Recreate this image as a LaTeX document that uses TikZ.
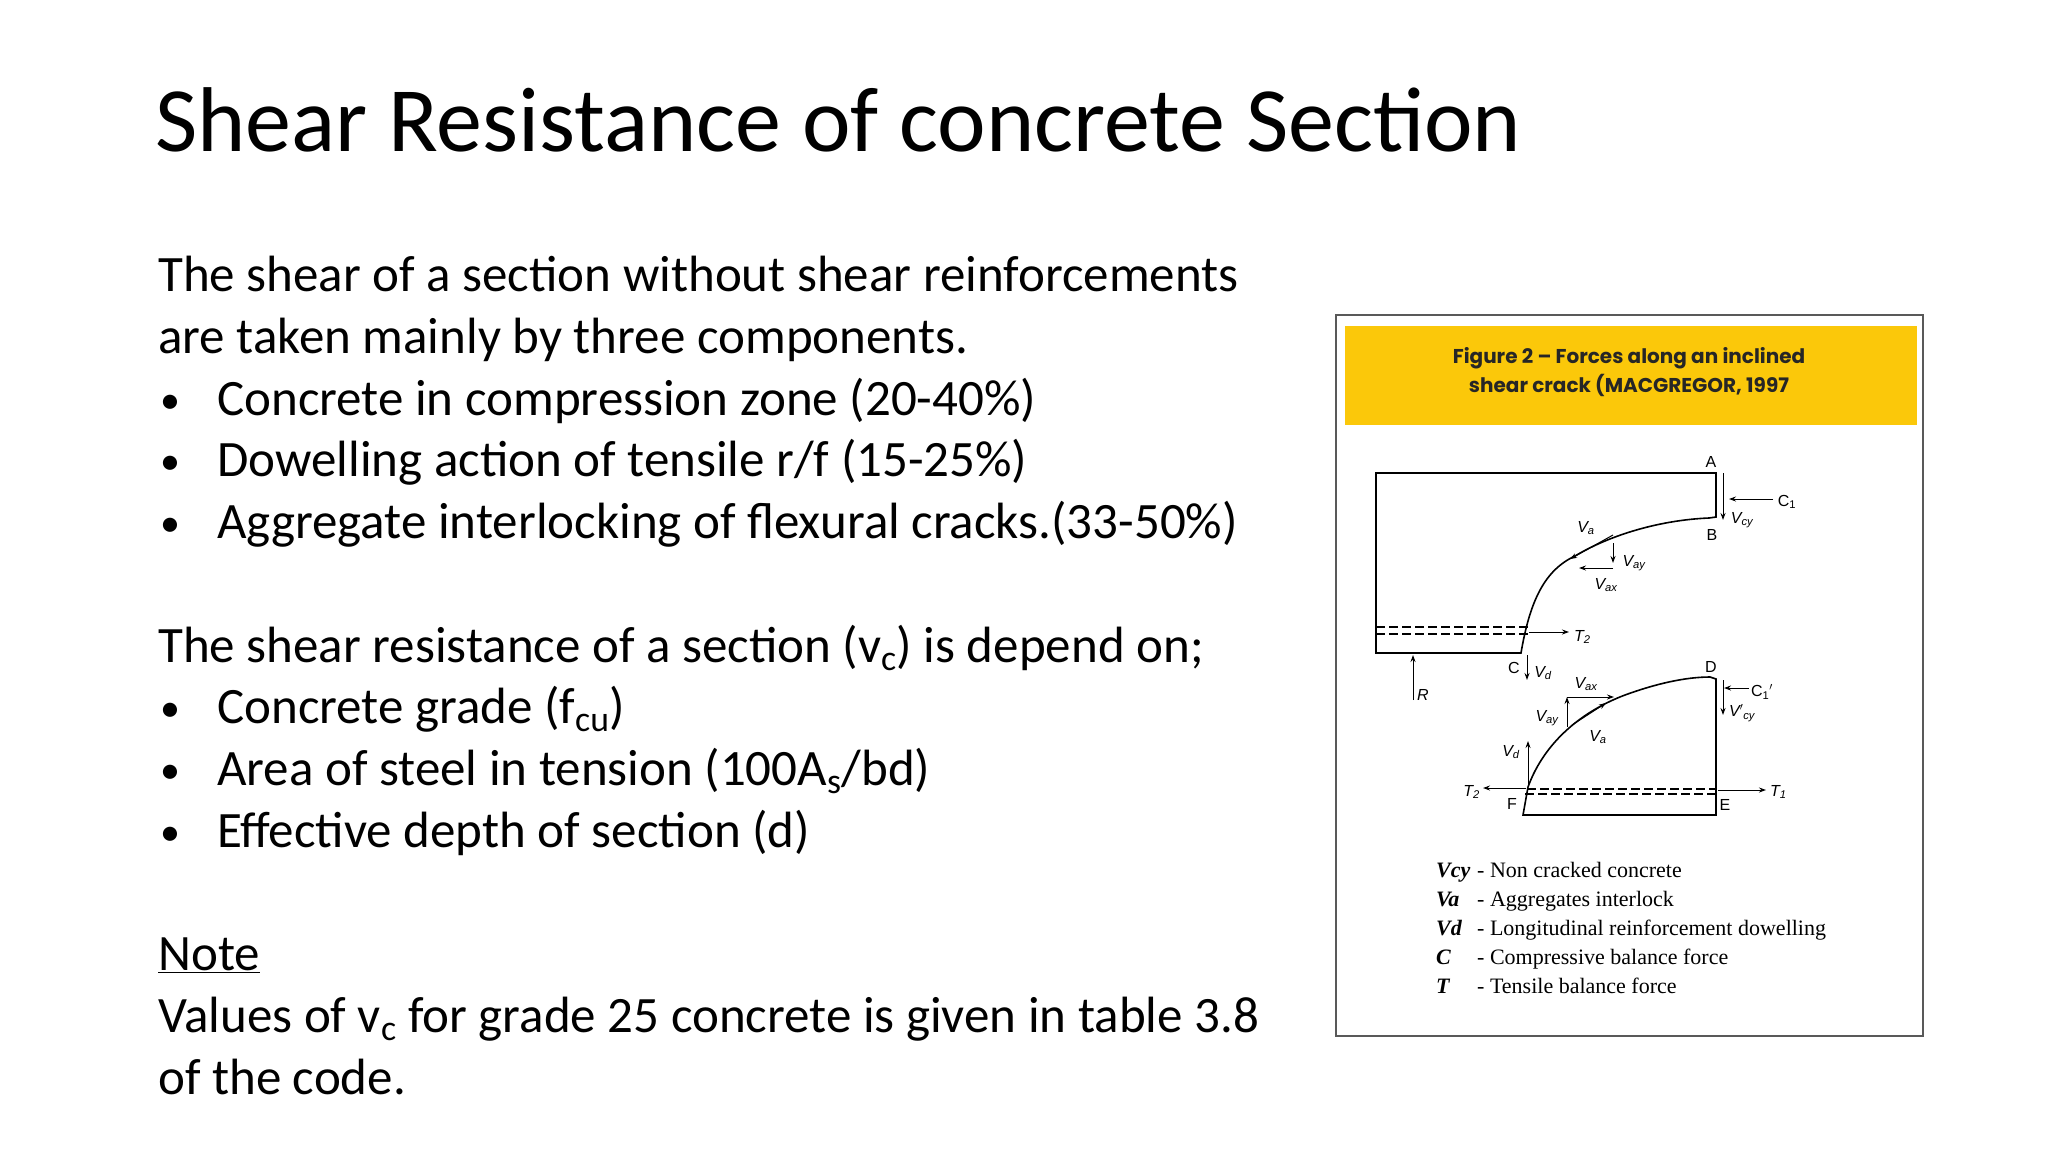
\documentclass[tikz,border=0pt]{standalone}
\usepackage{fontspec}
\setmainfont{Carlito}
\newfontfamily\capfont{Poppins}
\newfontfamily\legfont{Liberation Serif}
\newfontfamily\figfont{Liberation Sans}
\usetikzlibrary{arrows.meta}
\definecolor{figyellow}{HTML}{FBC80A}
\begin{document}
\begin{tikzpicture}[x=1pt,y=-1pt,
  body/.style={anchor=base west,inner sep=0pt,font=\fontsize{51}{60}\selectfont},
  bul/.style={anchor=base west,inner sep=0pt,font=\fontsize{40}{60}\selectfont},
  lbl/.style={inner sep=0pt,font=\figfont\fontsize{16}{18}\selectfont},
  ilbl/.style={inner sep=0pt,font=\figfont\itshape\fontsize{16}{18}\selectfont},
  frc/.style={-{Stealth[length=7pt,width=5pt]},line width=1pt},
  bm/.style={line width=1.6pt},
  dsh/.style={dashed,dash pattern=on 9pt off 4pt,line width=1.1pt},
  leg/.style={anchor=base west,inner sep=0pt,font=\legfont\fontsize{22}{24}\selectfont}]
\useasboundingbox (0,0) rectangle (2048,1152);
\fill[white] (0,0) rectangle (2048,1152);
\node[anchor=base west,inner sep=0pt,font=\fontsize{92}{100}\selectfont] (title) at (155,151) {Shear Resistance of concrete Section};
\node[body] (l1) at (158,291) {The shear of a section without shear reinforcements};
\node[body] (l2) at (158,353) {are taken mainly by three components.};
\node[bul] (b1) at (160,413) {•}; \node[body] (t1) at (217,415) {Concrete in compression zone (20-40\%)};
\node[bul] (b2) at (160,474) {•}; \node[body] (t2) at (217,476) {Dowelling action of tensile r/f (15-25\%)};
\node[bul] (b3) at (160,536) {•}; \node[body] (t3) at (217,538) {Aggregate interlocking of flexural cracks.(33-50\%)};
\node[body] (l3) at (158,662) {The shear resistance of a section (v\textsubscript{c}) is depend on;};
\node[bul] (b4) at (160,721) {•}; \node[body] (t4) at (217,723) {Concrete grade (f\textsubscript{cu})};
\node[bul] (b5) at (160,783) {•}; \node[body] (t5) at (217,785) {Area of steel in tension (100A\textsubscript{s}/bd)};
\node[bul] (b6) at (160,845) {•}; \node[body] (t6) at (217,847) {Effective depth of section (d)};
\node[body] (n1) at (158,970) {\underline{Note}};
\node[body] (n2) at (158,1032) {Values of v\textsubscript{c} for grade 25 concrete is given in table 3.8};
\node[body] (n3) at (158,1094) {of the code.};
% figure frame
\draw[gray!70!black,line width=1.2pt] (1336,315) rectangle (1923,1036);
\fill[figyellow] (1345,326) rectangle (1917,425);
\node[align=center,inner sep=0pt,font=\capfont\fontsize{20}{29}\selectfont,text=black!85] (cap) at (1629,372) {\textbf{Figure 2 – Forces along an inclined}\\\textbf{shear crack (MACGREGOR, 1997}};
% upper beam
\draw[bm] (1709,518) -- (1716,517) -- (1716,473) -- (1376,473) -- (1376,653) -- (1521,653)
  .. controls (1530,600) and (1545,570) .. (1575,556) .. controls (1610,535) and (1660,520) .. (1709,518);
\draw[dsh] (1376,627) -- (1531,627);
\draw[dsh] (1376,634) -- (1528,634);
\coordinate (t2s) at (1529,632); \coordinate (t2e) at (1569,632);
\draw[frc] (t2s) -- (t2e); \node[ilbl,anchor=west] (T2a) at (1574,637) {T\textsubscript{2}};
\node[lbl] (Cl) at (1514,668) {C};
\coordinate (vd1) at (1527,655); \coordinate (vd2) at (1527,680);
\draw[frc] (vd1) -- (vd2); \node[ilbl] (Vd1) at (1543,673) {V\textsubscript{d}};
\coordinate (r1) at (1413,700); \coordinate (r2) at (1413,655);
\draw[frc] (r1) -- (r2); \node[ilbl] (R) at (1423,695) {R};
\node[lbl] (A) at (1711,462) {A};
\node[lbl] (B) at (1712,535) {B};
\coordinate (vc1) at (1723,473); \coordinate (vc2) at (1723,520);
\draw[frc] (vc1) -- (vc2); \node[ilbl] (Vcy) at (1742,520) {V\textsubscript{cy}};
\coordinate (c1a) at (1773,499); \coordinate (c1b) at (1729,499);
\draw[frc] (c1a) -- (c1b); \node[lbl] (C1) at (1787,502) {C\textsubscript{1}};
\coordinate (va1) at (1613,535); \coordinate (va2) at (1570,559);
\draw[frc] (va1) -- (va2); \node[ilbl] (Va1) at (1586,528) {V\textsubscript{a}};
\coordinate (vy1) at (1613,543); \coordinate (vy2) at (1613,563);
\draw[frc] (vy1) -- (vy2); \node[ilbl] (Vay1) at (1634,563) {V\textsubscript{ay}};
\coordinate (vx1) at (1613,568); \coordinate (vx2) at (1579,568);
\draw[frc] (vx1) -- (vx2); \node[ilbl] (Vax1) at (1606,585) {V\textsubscript{ax}};
% lower piece
\draw[bm] (1528,787) .. controls (1545,740) and (1585,710) .. (1625,695) .. controls (1655,684) and (1685,677) .. (1710,677) -- (1716,679) -- (1716,815) -- (1523,815) -- cycle;
\draw[dsh] (1527,789) -- (1716,789);
\draw[dsh] (1525,794) -- (1716,794);
\node[lbl] (D) at (1711,667) {D};
\node[lbl] (E) at (1725,805) {E};
\node[lbl] (F) at (1512,804) {F};
\coordinate (t1a) at (1718,790); \coordinate (t1b) at (1766,790);
\draw[frc] (t1a) -- (t1b); \node[ilbl,anchor=west] (T1) at (1770,792) {T\textsubscript{1}};
\coordinate (t3a) at (1526,788); \coordinate (t3b) at (1483,788);
\draw[frc] (t3a) -- (t3b); \node[ilbl,anchor=east] (T2b) at (1480,792) {T\textsubscript{2}};
\coordinate (ci1) at (1749,688); \coordinate (ci2) at (1724,688);
\draw[frc] (ci1) -- (ci2); \node[lbl] (Ci) at (1762,692) {C\textsubscript{1}$'$};
\coordinate (vc3) at (1723,680); \coordinate (vc4) at (1723,715);
\draw[frc] (vc3) -- (vc4); \node[ilbl] (Vcy2) at (1742,713) {V$'$\textsubscript{cy}};
\coordinate (vd3) at (1528,787); \coordinate (vd4) at (1528,741);
\draw[frc] (vd3) -- (vd4); \node[ilbl] (Vd2) at (1511,752) {V\textsubscript{d}};
\coordinate (vy3) at (1567,727); \coordinate (vy4) at (1567,697);
\draw[frc] (vy3) -- (vy4); \node[ilbl] (Vay2) at (1547,718) {V\textsubscript{ay}};
\coordinate (vx3) at (1567,697); \coordinate (vx4) at (1614,697);
\draw[frc] (vx3) -- (vx4); \node[ilbl] (Vax2) at (1586,684) {V\textsubscript{ax}};
\coordinate (va3) at (1572,725); \coordinate (va4) at (1606,703);
\draw[frc] (va3) -- (va4); \node[ilbl] (Va2) at (1598,737) {V\textsubscript{a}};
% legend
\node[leg] (k1) at (1436,877) {\textbf{\textit{Vcy}}}; \node[leg] (d1) at (1477,877) {- Non cracked concrete};
\node[leg] (k2) at (1436,906) {\textbf{\textit{Va}}}; \node[leg] (d2) at (1477,906) {- Aggregates interlock};
\node[leg] (k3) at (1436,935) {\textbf{\textit{Vd}}}; \node[leg] (d3) at (1477,935) {- Longitudinal reinforcement dowelling};
\node[leg] (k4) at (1436,964) {\textbf{\textit{C}}}; \node[leg] (d4) at (1477,964) {- Compressive balance force};
\node[leg] (k5) at (1436,993) {\textbf{\textit{T}}}; \node[leg] (d5) at (1477,993) {- Tensile balance force};
\end{tikzpicture}
\end{document}
